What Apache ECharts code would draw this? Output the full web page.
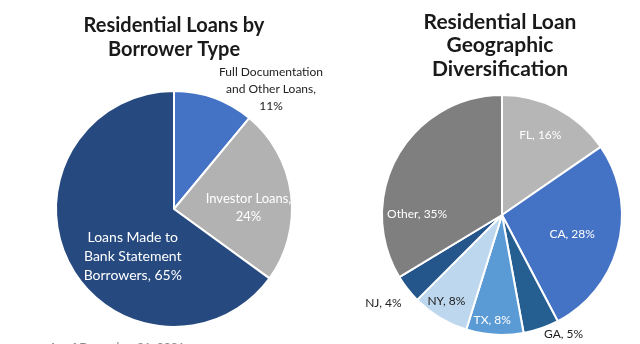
<!DOCTYPE html>
<html><head><meta charset="utf-8">
<script src="https://cdn.jsdelivr.net/npm/echarts@6/dist/echarts.min.js"></script>
<style>html,body{margin:0;padding:0;background:#fff}#c{width:640px;height:344px}</style>
</head><body><div id="c"></div>
<script>
// Data
const borrowerCategories = ['Full Documentation\nand Other Loans', 'Investor Loans', 'Loans Made to\nBank Statement\nBorrowers'];
const borrowerValues = [11, 24, 65];
const geoCategories = ['FL', 'CA', 'GA', 'TX', 'NY', 'NJ', 'Other'];
const geoValues = [16, 28, 5, 8, 8, 4, 35];

// Styling
const borrowerColors = ['#4472c4', '#b2b2b2', '#264a80'];
const borrowerLabelColors = ['#222222', '#ffffff', '#ffffff'];
const borrowerLabelSep = [',\n', ',\n', ', '];
const borrowerLabelSize = [12, 13, 14];
const borrowerLabelShift = [[76, -62], [13, 7], [14, 19]];
const geoColors = ['#b6b6b6', '#4472c4', '#255e91', '#5b9bd5', '#bdd7ee', '#24568c', '#7f7f7f'];
const geoLabelColors = ['#ffffff', '#ffffff', '#222222', '#ffffff', '#222222', '#222222', '#ffffff'];
const geoLabelShift = [[9, -24], [9, 4], [41, 60], [-6, 42], [-23, 32], [-69, 49], [-30, 30]];

const FONT = 'Lato';
const chart = echarts.init(document.getElementById('c'), null, {renderer: 'canvas'});

chart.setOption({
  animation: false,
  title: [
    {text: 'Residential Loans by\nBorrower Type', left: 169, top: 9, textAlign: 'center',
     textStyle: {fontFamily: FONT, fontWeight: 'bold', fontSize: 20, lineHeight: 24, color: '#1a1a1a'}},
    {text: 'Residential Loan\nGeographic\nDiversification', left: 495, top: 5, textAlign: 'center',
     textStyle: {fontFamily: FONT, fontWeight: 'bold', fontSize: 21, lineHeight: 23.5, color: '#1a1a1a'}},
    {text: 'As of December 31, 2021', left: 44, top: 336,
     textStyle: {fontFamily: FONT, fontWeight: 'normal', fontSize: 12, color: '#888'}}
  ],
  series: [
    {
      type: 'pie', center: [174, 209], radius: 118, startAngle: 90, clockwise: true,
      data: borrowerCategories.map((n, i) => ({
        name: n, value: borrowerValues[i],
        itemStyle: {color: borrowerColors[i]},
        label: {color: borrowerLabelColors[i], fontSize: borrowerLabelSize[i],
                lineHeight: borrowerLabelSize[i] + 5,
                formatter: p => p.name + borrowerLabelSep[i] + p.value + '%'}
      })),
      itemStyle: {borderColor: '#fff', borderWidth: 2},
      label: {position: 'inside', fontFamily: FONT, overflow: 'none', align: 'center', textBorderWidth: 0},
      labelLine: {show: false},
      labelLayout: p => ({dx: borrowerLabelShift[p.dataIndex][0], dy: borrowerLabelShift[p.dataIndex][1], hideOverlap: false})
    },
    {
      type: 'pie', center: [502, 215], radius: 120, startAngle: 90, clockwise: true,
      data: geoCategories.map((n, i) => ({
        name: n, value: geoValues[i],
        itemStyle: {color: geoColors[i]},
        label: {color: geoLabelColors[i]}
      })),
      itemStyle: {borderColor: '#fff', borderWidth: 2},
      label: {position: 'inside', fontFamily: FONT, fontSize: 12, overflow: 'none', textBorderWidth: 0,
        formatter: p => p.name + ', ' + p.value + '%'},
      labelLine: {show: false},
      labelLayout: p => ({dx: geoLabelShift[p.dataIndex][0], dy: geoLabelShift[p.dataIndex][1], hideOverlap: false})
    }
  ]
});
</script></body></html>
